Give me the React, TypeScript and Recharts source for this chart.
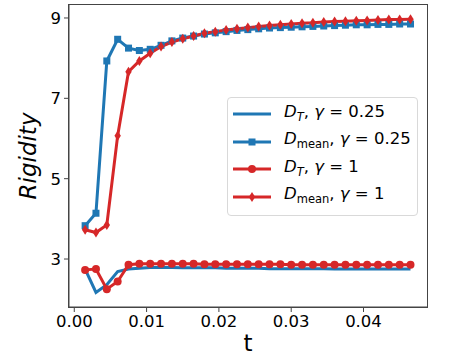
import React from "react";
import { LineChart, Line, XAxis, YAxis, Label } from "recharts";

const tValues = [0.0015, 0.003, 0.0045, 0.006, 0.0075, 0.009, 0.0105, 0.012, 0.0135, 0.015, 0.0165, 0.018, 0.0195, 0.021, 0.0225, 0.024, 0.0255, 0.027, 0.0285, 0.03, 0.0315, 0.033, 0.0345, 0.036, 0.0375, 0.039, 0.0405, 0.042, 0.0435, 0.045, 0.0465];
const dT025 = [2.75, 2.17, 2.36, 2.69, 2.75, 2.77, 2.79, 2.79, 2.79, 2.78, 2.78, 2.78, 2.78, 2.77, 2.77, 2.77, 2.77, 2.76, 2.76, 2.76, 2.76, 2.76, 2.76, 2.75, 2.75, 2.75, 2.75, 2.75, 2.75, 2.75, 2.75];
const dMean025 = [3.83, 4.14, 7.93, 8.47, 8.25, 8.19, 8.22, 8.32, 8.43, 8.5, 8.55, 8.6, 8.63, 8.66, 8.69, 8.71, 8.73, 8.75, 8.76, 8.77, 8.78, 8.79, 8.8, 8.81, 8.82, 8.83, 8.83, 8.84, 8.84, 8.85, 8.85];
const dT1 = [2.73, 2.75, 2.25, 2.44, 2.86, 2.88, 2.88, 2.88, 2.88, 2.88, 2.88, 2.87, 2.87, 2.87, 2.87, 2.87, 2.87, 2.87, 2.87, 2.86, 2.86, 2.86, 2.86, 2.86, 2.86, 2.86, 2.86, 2.86, 2.86, 2.86, 2.86];
const dMean1 = [3.73, 3.66, 3.85, 6.07, 7.66, 7.93, 8.12, 8.29, 8.4, 8.48, 8.55, 8.62, 8.66, 8.7, 8.73, 8.76, 8.79, 8.81, 8.83, 8.85, 8.87, 8.88, 8.9, 8.91, 8.92, 8.93, 8.94, 8.95, 8.96, 8.96, 8.97];
const xTicks = [0, 0.01, 0.02, 0.03, 0.04];
const yTicks = [3, 5, 7, 9];

const data = tValues.map((t, i) => ({
  t,
  dT025: dT025[i],
  dMean025: dMean025[i],
  dT1: dT1[i],
  dMean1: dMean1[i],
}));

const BLUE = "#1f77b4";
const RED = "#d62728";
const FONT = "DejaVu Sans, sans-serif";

const SquareDot = (props: any) => {
  const { cx, cy, index } = props;
  if (cx == null || cy == null) return <g key={index} />;
  return <rect key={index} x={cx - 3.5} y={cy - 3.5} width={7} height={7} fill={BLUE} />;
};
const CircleDot = (props: any) => {
  const { cx, cy, index } = props;
  if (cx == null || cy == null) return <g key={index} />;
  return <circle key={index} cx={cx} cy={cy} r={4} fill={RED} />;
};
const DiamondDot = (props: any) => {
  const { cx, cy, index } = props;
  if (cx == null || cy == null) return <g key={index} />;
  return (
    <polygon
      key={index}
      points={`${cx},${cy - 5} ${cx + 3.2},${cy} ${cx},${cy + 5} ${cx - 3.2},${cy}`}
      fill={RED}
    />
  );
};

const legendItems = [
  { color: BLUE, marker: "none", sub: "T", gamma: "0.25" },
  { color: BLUE, marker: "square", sub: "mean", gamma: "0.25" },
  { color: RED, marker: "circle", sub: "T", gamma: "1" },
  { color: RED, marker: "diamond", sub: "mean", gamma: "1" },
];

const LegendBox = () => (
  <div
    style={{
      position: "absolute",
      left: 227,
      top: 97,
      width: 189,
      height: 117,
      border: "1px solid #d9d9d9",
      borderRadius: 4,
      background: "rgba(255,255,255,0.8)",
      fontFamily: FONT,
      fontSize: 16.5,
      color: "#000",
    }}
  >
    {legendItems.map((it, i) => (
      <div key={i} style={{ position: "absolute", left: 5, top: 5 + i * 27.5, height: 22, display: "flex", alignItems: "center" }}>
        <svg width={40} height={14} style={{ display: "block" }}>
          <line x1={0} y1={7} x2={38} y2={7} stroke={it.color} strokeWidth={3} />
          {it.marker === "square" && <rect x={15.5} y={3.5} width={7} height={7} fill={it.color} />}
          {it.marker === "circle" && <circle cx={19} cy={7} r={4} fill={it.color} />}
          {it.marker === "diamond" && <polygon points="19,2 22.2,7 19,12 15.8,7" fill={it.color} />}
        </svg>
        <span style={{ marginLeft: 11, whiteSpace: "nowrap", lineHeight: "22px" }}>
          <i>D</i>
          {it.sub === "T" ? (
            <i style={{ fontSize: 11.5, verticalAlign: -4 }}>T</i>
          ) : (
            <span style={{ fontSize: 11.5, verticalAlign: -4 }}>mean</span>
          )}
          <span>, </span>
          <i>γ</i>
          <span> = {it.gamma}</span>
        </span>
      </div>
    ))}
  </div>
);

export default function App() {
  return (
    <div style={{ position: "absolute", left: 0, top: 0, width: 474, height: 355, background: "#fff" }}>
      <LineChart width={474} height={355} data={data} margin={{ top: 5, right: 47, left: 9, bottom: 8 }}>
        <XAxis
          dataKey="t"
          type="number"
          domain={[-0.00073, 0.04878]}
          ticks={xTicks}
          tickFormatter={(v: number) => v.toFixed(2)}
          allowDataOverflow
          height={40}
          tickSize={5}
          tickMargin={3}
          stroke="#444"
          interval={0}
          tick={{ fill: "#000", fontSize: 16.5, fontFamily: FONT }}
        >
          <Label value="t" position="insideBottom" offset={-4} style={{ fontSize: 23, fontFamily: FONT, fill: "#000" }} />
        </XAxis>
        <YAxis
          type="number"
          domain={[1.806, 9.323]}
          ticks={yTicks}
          allowDataOverflow
          width={60}
          tickSize={5}
          tickMargin={3}
          stroke="#444"
          interval={0}
          tick={{ fill: "#000", fontSize: 16.5, fontFamily: FONT }}
        >
          <Label
            value="Rigidity"
            angle={-90}
            position="insideLeft"
            offset={19}
            style={{ fontSize: 23, fontFamily: FONT, fontStyle: "italic", fill: "#000", textAnchor: "middle" }}
          />
        </YAxis>
        <Line type="linear" dataKey="dT025" stroke={BLUE} strokeWidth={3} dot={false} isAnimationActive={false} />
        <Line type="linear" dataKey="dMean025" stroke={BLUE} strokeWidth={3} dot={SquareDot} isAnimationActive={false} />
        <Line type="linear" dataKey="dT1" stroke={RED} strokeWidth={3} dot={CircleDot} isAnimationActive={false} />
        <Line type="linear" dataKey="dMean1" stroke={RED} strokeWidth={3} dot={DiamondDot} isAnimationActive={false} />
      </LineChart>
      <div
        style={{
          position: "absolute",
          left: 68,
          top: 4,
          width: 358,
          height: 302,
          border: "1px solid #444",
          pointerEvents: "none",
        }}
      />
      <LegendBox />
    </div>
  );
}
